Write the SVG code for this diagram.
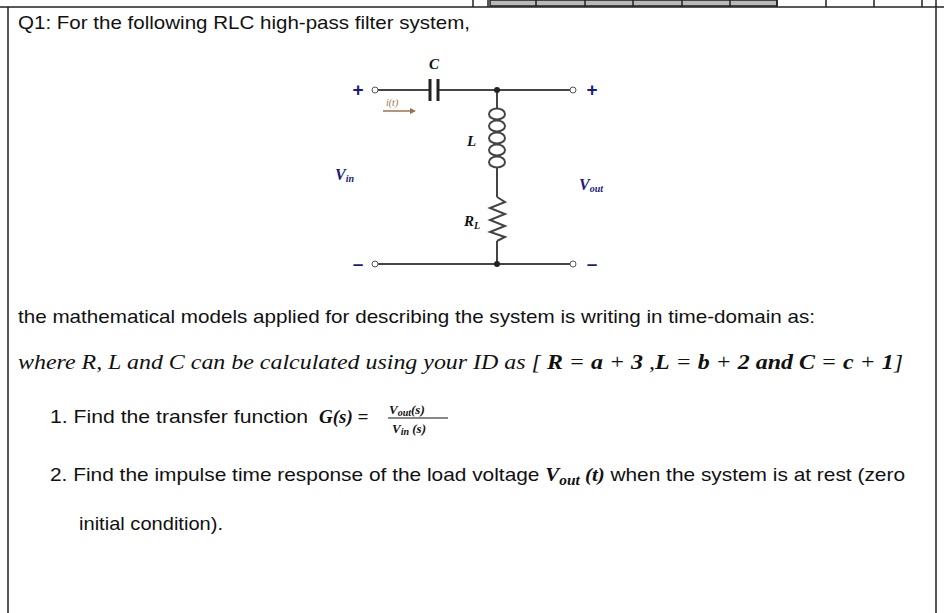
<svg xmlns="http://www.w3.org/2000/svg" width="944" height="613" viewBox="0 0 944 613">
<style>
.t{font-family:"Liberation Sans",Arial,sans-serif;font-size:19px;fill:#111}
.m{font-family:"Liberation Serif","DejaVu Serif",serif;font-style:italic;fill:#111}
.b{font-weight:bold}
.w{stroke:#444;stroke-width:2;fill:none}
.lbl{font-family:"Liberation Serif",serif;font-style:italic;font-weight:bold;fill:#1a1a80;font-size:16px}
.ck{font-family:"Liberation Serif",serif;font-style:italic;font-weight:bold;fill:#111;font-size:15px}
</style>
<rect width="944" height="613" fill="#fff"/>
<g id="header" stroke="#222" stroke-width="1.5">
<rect x="490" y="0" width="287" height="6" fill="#b8b8b8"/>
<line x1="0" y1="7" x2="944" y2="7"/>
<line x1="8" y1="7" x2="8" y2="613"/>
<line x1="936" y1="0" x2="936" y2="613"/>
<line x1="473" y1="0" x2="473" y2="7"/><line x1="488" y1="0" x2="488" y2="7"/>
<line x1="536" y1="0" x2="536" y2="7"/><line x1="585" y1="0" x2="585" y2="7"/>
<line x1="633" y1="0" x2="633" y2="7"/><line x1="682" y1="0" x2="682" y2="7"/>
<line x1="730" y1="0" x2="730" y2="7"/><line x1="777" y1="0" x2="777" y2="7"/>
<line x1="826" y1="0" x2="826" y2="7"/><line x1="874" y1="0" x2="874" y2="7"/>
<line x1="922" y1="0" x2="922" y2="7"/>
</g>
<text class="t" x="18" y="29" textLength="452" lengthAdjust="spacingAndGlyphs">Q1: For the following RLC high-pass filter system,</text>
<g id="circuit">
<g id="connectors">
<line class="w" x1="378" y1="90" x2="430" y2="90"/>
<line class="w" x1="439" y1="90" x2="570" y2="90"/>
<line class="w" x1="497" y1="90" x2="497" y2="108"/>
<line class="w" x1="497" y1="168" x2="497" y2="197"/>
<line class="w" x1="497" y1="241" x2="497" y2="263"/>
<line class="w" x1="378" y1="264" x2="570" y2="264"/>
<line x1="383" y1="111" x2="410" y2="111" stroke="#a0704a" stroke-width="1.5"/>
<path d="M410,108 L416,111 L410,114 Z" fill="#a0704a"/>
</g>
<g id="cap"><line x1="430" y1="79" x2="430" y2="101" stroke="#222" stroke-width="3"/><line x1="438" y1="79" x2="438" y2="101" stroke="#222" stroke-width="3"/>
<text class="ck" x="429" y="69">C</text></g>
<g id="inductor">
<ellipse cx="497" cy="114" rx="8" ry="5.5" class="w" stroke-width="1.5"/><ellipse cx="497" cy="126" rx="8" ry="5.5" class="w" stroke-width="1.5"/><ellipse cx="497" cy="138" rx="8" ry="5.5" class="w" stroke-width="1.5"/><ellipse cx="497" cy="150" rx="8" ry="5.5" class="w" stroke-width="1.5"/><ellipse cx="497" cy="162" rx="8" ry="5.5" class="w" stroke-width="1.5"/>
<text class="ck" x="467" y="146">L</text></g>
<g id="resistor"><path class="w" d="M497,197 L505,202 L490,208 L505,214 L490,220 L505,226 L490,232 L505,237 L497,241" stroke-width="1.5"/>
<text class="ck" x="464" y="226">R<tspan font-size="10" dy="3">L</tspan></text></g>
<g id="nodes" fill="#222"><circle cx="497" cy="90" r="3"/><circle cx="497" cy="264" r="3"/></g>
<g id="terminals" fill="#fff" stroke="#555" stroke-width="1"><circle cx="375" cy="90" r="3"/><circle cx="573" cy="90" r="3"/><circle cx="375" cy="264" r="3"/><circle cx="573" cy="264" r="3"/></g>
<g id="signs" font-family="Liberation Sans,sans-serif" font-weight="bold" font-size="19" fill="#1a1a80" text-anchor="middle">
<text x="358" y="96">+</text><text x="592" y="96">+</text><text x="358" y="270">–</text><text x="592" y="270">–</text></g>
<text x="386" y="106" font-family="Liberation Serif,serif" font-style="italic" font-size="10" fill="#a0704a">i(t)</text>
<text class="lbl" x="335" y="180">V<tspan font-size="10" dy="2">in</tspan></text>
<text class="lbl" x="579" y="190">V<tspan font-size="10" dy="2">out</tspan></text>
</g>
<text class="t" x="18" y="323" textLength="797" lengthAdjust="spacingAndGlyphs">the mathematical models applied for describing the system is writing in time-domain as:</text>
<text class="m" x="18" y="369" font-size="20" textLength="885" lengthAdjust="spacingAndGlyphs">where <tspan>R</tspan>, <tspan>L</tspan> and <tspan>C</tspan> can be calculated using your <tspan>ID</tspan> as [ <tspan class="b">R</tspan> = <tspan class="b">a</tspan> + <tspan class="b">3</tspan> ,<tspan class="b">L</tspan> = <tspan class="b">b</tspan> + <tspan class="b">2</tspan>  <tspan class="b">and</tspan>  <tspan class="b">C</tspan> = <tspan class="b">c</tspan> + <tspan class="b">1</tspan>]</text>
<text class="t" x="50" y="423" textLength="258" lengthAdjust="spacingAndGlyphs">1.  Find the transfer function</text>
<text class="m b" x="319" y="423" font-size="19">G(s) =</text>
<text class="m b" x="389" y="414" font-size="13">V<tspan font-size="10" dy="2">out</tspan><tspan dy="-2">(s)</tspan></text>
<line x1="388" y1="418" x2="448" y2="418" stroke="#111" stroke-width="1"/>
<text class="m b" x="392" y="433" font-size="13">V<tspan font-size="10" dy="2">in</tspan><tspan dy="-2"> (s)</tspan></text>
<text class="t" x="50" y="481" textLength="855" lengthAdjust="spacingAndGlyphs">2.  Find the impulse time response of the load voltage <tspan class="m b">V<tspan font-size="14" dy="4">out</tspan><tspan dy="-4"> (t)</tspan></tspan> when the system is at rest (zero</text>
<text class="t" x="79" y="530" textLength="144" lengthAdjust="spacingAndGlyphs">initial condition).</text>
</svg>
